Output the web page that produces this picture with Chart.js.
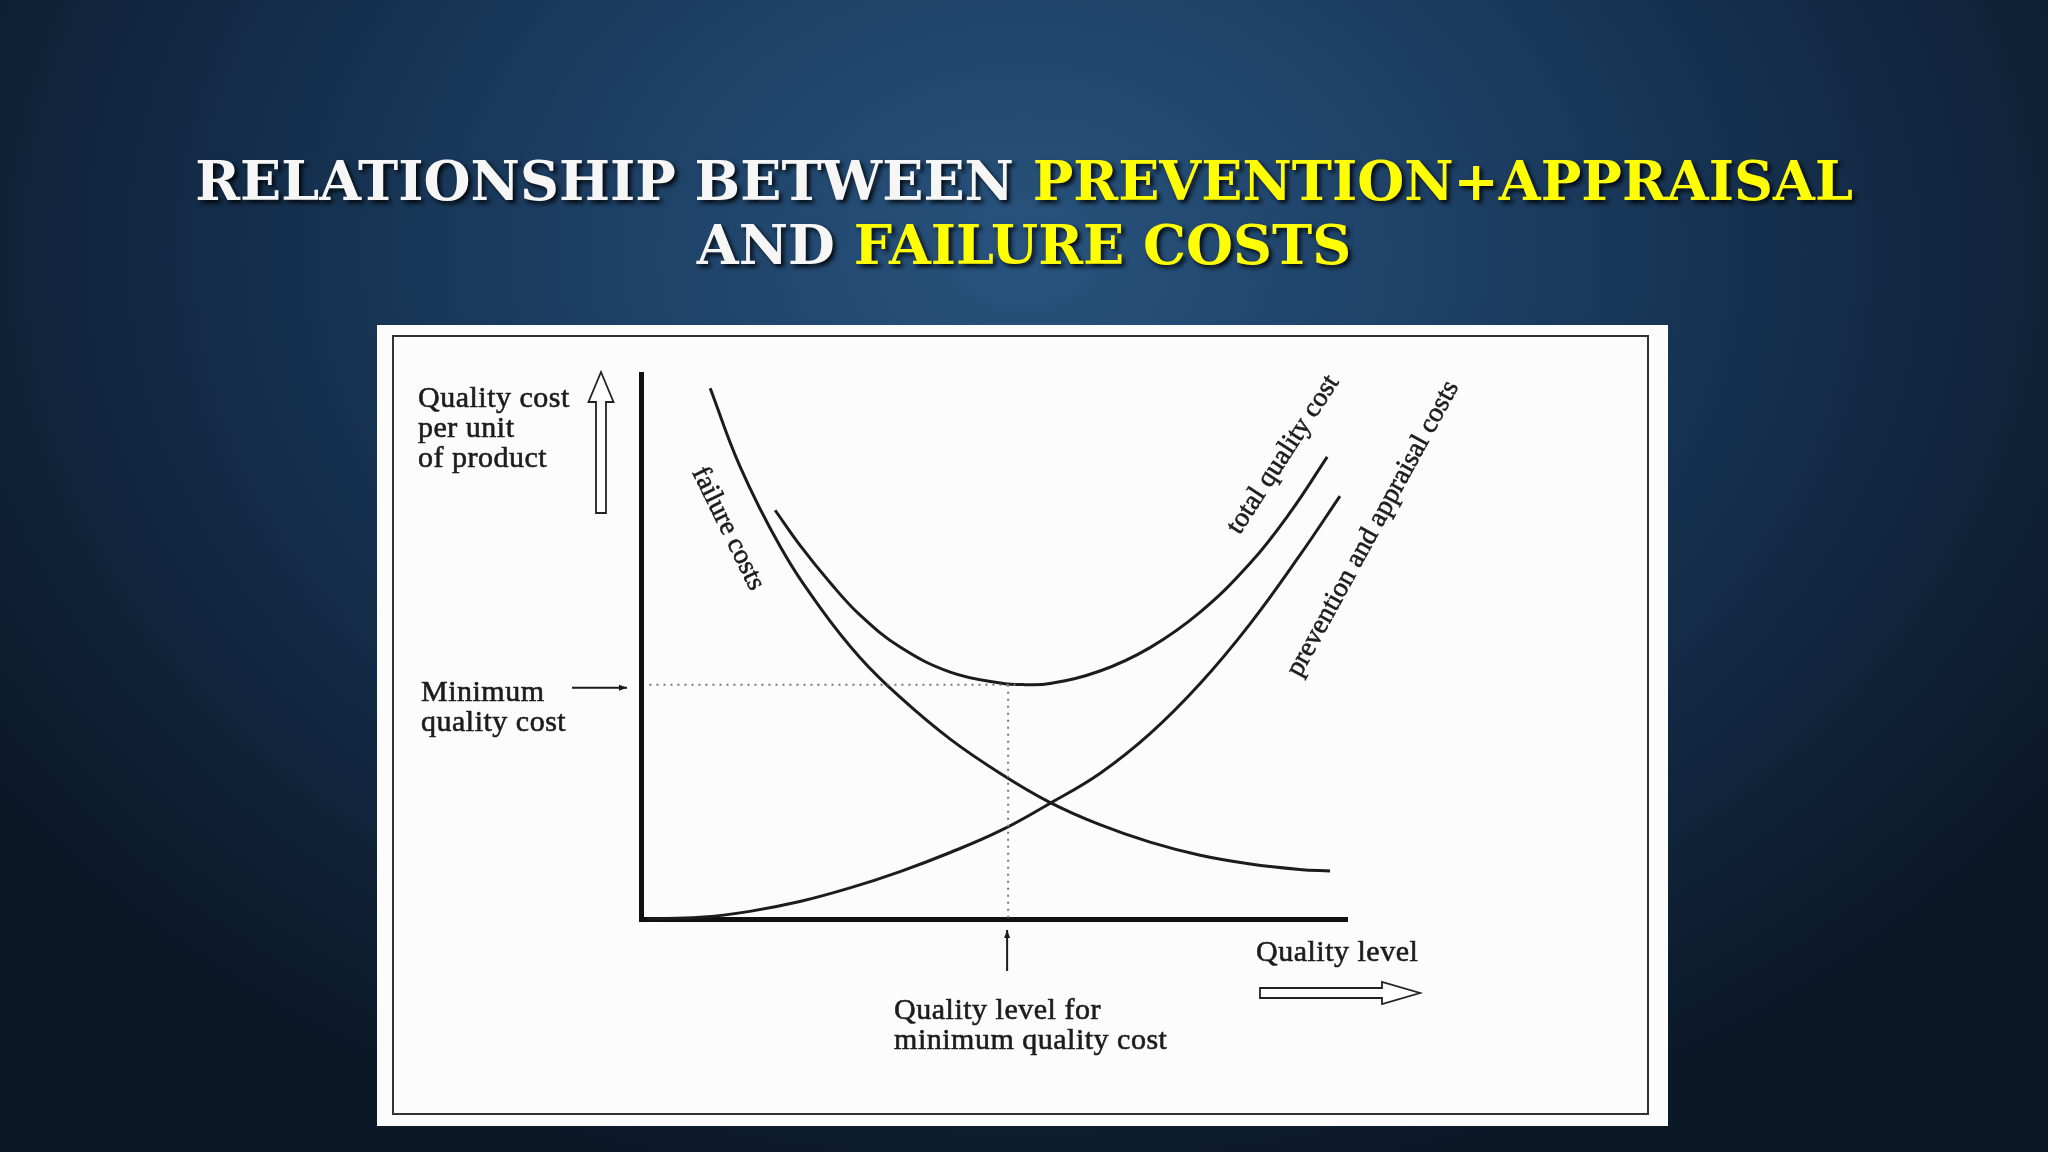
<!DOCTYPE html>
<html>
<head>
<meta charset="utf-8">
<script src="https://cdn.jsdelivr.net/npm/chart.js@4.4.1/dist/chart.umd.min.js"></script>
<style>
  html, body { margin: 0; padding: 0; }
  body {
    width: 2048px; height: 1152px; overflow: hidden; position: relative;
    background: radial-gradient(ellipse 1250px 950px at 50% 22%, #28537d 0%, #1d3f64 35%, #132c48 65%, #0b1828 100%);
  }
  .title {
    position: absolute; left: 0; top: 149px; width: 2048px; text-align: center;
    font-family: "DejaVu Serif", serif; font-weight: bold; font-size: 54px; line-height: 64px;
    color: #f6f6f6; text-shadow: 3px 3px 4px rgba(0, 0, 0, 0.85);
  }
  .title .hl { color: #ffff00; }
  .paper { position: absolute; left: 377px; top: 325px; width: 1291px; height: 801px; background: #fcfcfc; }
  .frame { position: absolute; left: 15px; top: 10px; width: 1253px; height: 776px; border: 2.5px solid #333; }
  #chart { position: absolute; left: 0; top: 0; }
</style>
</head>
<body>
<div class="title">RELATIONSHIP BETWEEN <span class="hl">PREVENTION+APPRAISAL</span><br>AND <span class="hl">FAILURE COSTS</span></div>
<div class="paper"><div class="frame"></div></div>
<canvas id="chart" width="2048" height="1152"></canvas>
<script>
// quality level (x) and cost per unit (y), axes 0..10
const failureQuality = [0.98, 1.40, 1.97, 2.54, 3.10, 3.67, 4.38, 5.09, 5.79, 6.50, 7.21, 7.92, 8.63, 9.33, 9.76];
const failureCost    = [9.74, 8.31, 6.84, 5.71, 4.80, 4.07, 3.30, 2.67, 2.14, 1.73, 1.41, 1.17, 1.01, 0.91, 0.88];

const preventionQuality = [0.09, 0.84, 1.54, 2.25, 2.96, 3.67, 4.38, 5.09, 5.79, 6.50, 7.21, 7.92, 8.63, 9.33, 9.90];
const preventionCost    = [0.00, 0.03, 0.14, 0.32, 0.57, 0.87, 1.22, 1.62, 2.12, 2.67, 3.40, 4.32, 5.42, 6.67, 7.76];

const totalQuality = [1.90, 2.25, 2.68, 3.10, 3.67, 4.38, 5.09, 5.44, 5.79, 6.50, 7.21, 7.92, 8.63, 9.19, 9.72];
const totalCost    = [7.50, 6.86, 6.17, 5.58, 4.99, 4.53, 4.33, 4.30, 4.32, 4.55, 4.98, 5.63, 6.53, 7.45, 8.48];

const minQuality = 5.2;
const minCost = 4.30;

const toPoints = (xs, ys) => xs.map((v, i) => ({ x: v, y: ys[i] }));

const INK = '#1c1c1c';
const FONT = '30px "Liberation Serif", "Times New Roman", serif';
const CURVE_FONT = '27.5px "Liberation Serif", "Times New Roman", serif';

function hollowArrow(ctx, x0, y0, x1, y1, shaftW, headW, headL) {
  const ang = Math.atan2(y1 - y0, x1 - x0);
  const len = Math.hypot(x1 - x0, y1 - y0);
  ctx.save();
  ctx.translate(x0, y0);
  ctx.rotate(ang);
  ctx.beginPath();
  ctx.moveTo(0, -shaftW / 2);
  ctx.lineTo(len - headL, -shaftW / 2);
  ctx.lineTo(len - headL, -headW / 2);
  ctx.lineTo(len, 0);
  ctx.lineTo(len - headL, headW / 2);
  ctx.lineTo(len - headL, shaftW / 2);
  ctx.lineTo(0, shaftW / 2);
  ctx.closePath();
  ctx.fillStyle = '#fff';
  ctx.fill();
  ctx.lineWidth = 1.8;
  ctx.strokeStyle = '#222';
  ctx.stroke();
  ctx.restore();
}

function thinArrow(ctx, x0, y0, x1, y1) {
  const ang = Math.atan2(y1 - y0, x1 - x0);
  ctx.save();
  ctx.strokeStyle = INK;
  ctx.fillStyle = INK;
  ctx.lineWidth = 2;
  ctx.beginPath();
  ctx.moveTo(x0, y0);
  ctx.lineTo(x1, y1);
  ctx.stroke();
  ctx.translate(x1, y1);
  ctx.rotate(ang);
  ctx.beginPath();
  ctx.moveTo(0, 0);
  ctx.lineTo(-8, -3);
  ctx.lineTo(-8, 3);
  ctx.closePath();
  ctx.fill();
  ctx.restore();
}

// scanned print looks heavier than plain Times, so a thin stroke is added
function label(ctx, text, x, y, angle, align) {
  ctx.save();
  ctx.translate(x, y);
  ctx.rotate(angle * Math.PI / 180);
  ctx.textAlign = align || 'center';
  ctx.textBaseline = angle ? 'middle' : 'alphabetic';
  ctx.fillText(text, 0, 0);
  ctx.strokeText(text, 0, 0);
  ctx.restore();
}

// texts and arrows of the scanned figure
const figureNotes = {
  id: 'figureNotes',
  afterDatasetsDraw(chart) {
    const { ctx, chartArea: a, scales: { x, y } } = chart;
    ctx.save();
    ctx.font = FONT;
    ctx.fillStyle = INK;
    ctx.strokeStyle = INK;
    ctx.lineWidth = 0.6;
    ctx.letterSpacing = '0.5px';

    // y axis caption
    label(ctx, 'Quality cost', a.left - 223, a.top + 33, 0, 'left');
    label(ctx, 'per unit', a.left - 223, a.top + 63, 0, 'left');
    label(ctx, 'of product', a.left - 223, a.top + 93, 0, 'left');
    hollowArrow(ctx, a.left - 40, a.top + 139, a.left - 40, a.top - 2, 10, 25, 30);

    // minimum quality cost
    const yMin = y.getPixelForValue(minCost);
    label(ctx, 'Minimum', a.left - 220, yMin + 16, 0, 'left');
    label(ctx, 'quality cost', a.left - 220, yMin + 46, 0, 'left');
    thinArrow(ctx, a.left - 69, yMin + 3, a.left - 14, yMin + 3);

    // quality level for minimum cost
    const xMin = x.getPixelForValue(minQuality);
    thinArrow(ctx, xMin - 1, a.bottom + 52, xMin - 1, a.bottom + 11);
    label(ctx, 'Quality level for', xMin - 114, a.bottom + 100, 0, 'left');
    label(ctx, 'minimum quality cost', xMin - 114, a.bottom + 130, 0, 'left');

    // x axis caption
    label(ctx, 'Quality level', a.right - 91, a.bottom + 42, 0, 'left');
    hollowArrow(ctx, a.right - 87, a.bottom + 74, a.right + 73, a.bottom + 74, 10, 22, 38);

    // curve names
    ctx.font = CURVE_FONT;
    ctx.letterSpacing = '0px';
    label(ctx, 'failure costs', x.getPixelForValue(1.23), y.getPixelForValue(7.16), 63.8);
    label(ctx, 'total quality cost', x.getPixelForValue(9.10), y.getPixelForValue(8.52), -57);
    label(ctx, 'prevention and appraisal costs', x.getPixelForValue(10.37), y.getPixelForValue(7.16), -61.4);
    ctx.restore();
  }
};

const curve = {
  showLine: true,
  pointRadius: 0,
  borderColor: INK,
  borderWidth: 3,
  tension: 0.4,
  fill: false,
  clip: false
};

const guide = {
  showLine: true,
  pointRadius: 0,
  borderColor: '#7a7a7a',
  borderWidth: 2,
  borderDash: [2, 5],
  tension: 0,
  fill: false
};

new Chart(document.getElementById('chart').getContext('2d'), {
  type: 'line',
  data: {
    datasets: [
      { ...guide, label: 'min cost level', data: [{ x: 0.12, y: minCost }, { x: minQuality + 0.14, y: minCost }] },
      { ...guide, label: 'min quality level', data: [{ x: minQuality, y: minCost }, { x: minQuality, y: 0 }] },
      { ...curve, label: 'failure costs', data: toPoints(failureQuality, failureCost) },
      { ...curve, label: 'prevention and appraisal costs', data: toPoints(preventionQuality, preventionCost) },
      { ...curve, label: 'total quality cost', data: toPoints(totalQuality, totalCost) }
    ]
  },
  options: {
    responsive: false,
    animation: false,
    devicePixelRatio: 1,
    layout: { padding: { left: 641, top: 374, right: 701, bottom: 233 } },
    plugins: { legend: { display: false }, tooltip: { enabled: false }, title: { display: false } },
    scales: {
      x: {
        type: 'linear', min: 0, max: 10,
        grid: { display: false, drawTicks: false },
        ticks: { display: false },
        border: { display: true, color: '#111', width: 5 }
      },
      y: {
        type: 'linear', min: 0, max: 10,
        grid: { display: false, drawTicks: false },
        ticks: { display: false },
        border: { display: true, color: '#111', width: 5 }
      }
    }
  },
  plugins: [figureNotes]
});
</script>
</body>
</html>
